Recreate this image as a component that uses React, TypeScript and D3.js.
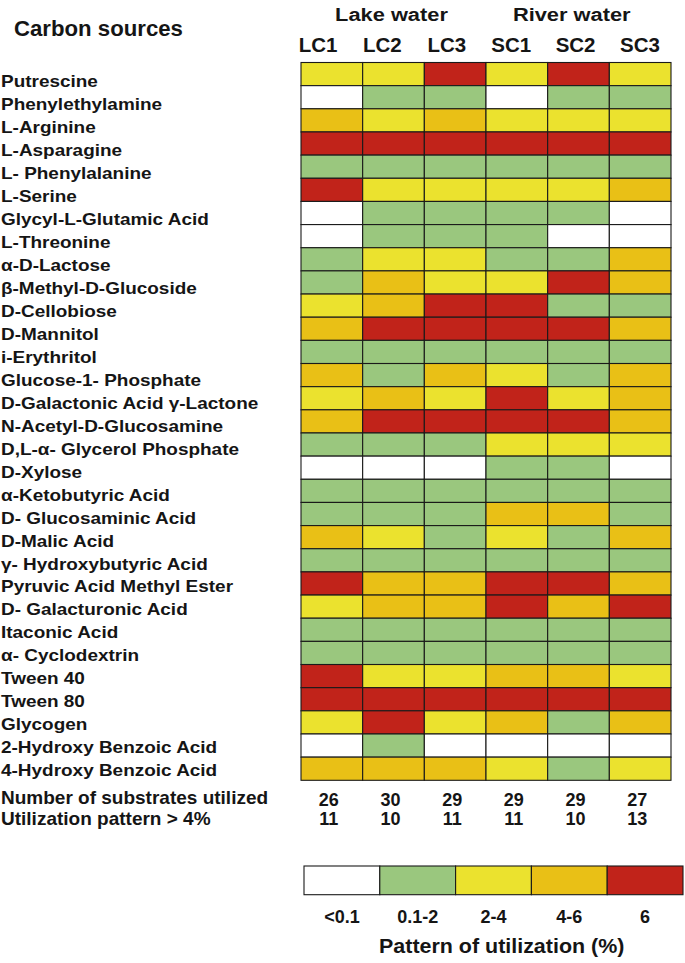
import React from "react";
import * as d3 from "d3";

const carbonSources = [
  "Putrescine",
  "Phenylethylamine",
  "L-Arginine",
  "L-Asparagine",
  "L- Phenylalanine",
  "L-Serine",
  "Glycyl-L-Glutamic Acid",
  "L-Threonine",
  "α-D-Lactose",
  "β-Methyl-D-Glucoside",
  "D-Cellobiose",
  "D-Mannitol",
  "i-Erythritol",
  "Glucose-1- Phosphate",
  "D-Galactonic Acid γ-Lactone",
  "N-Acetyl-D-Glucosamine",
  "D,L-α- Glycerol Phosphate",
  "D-Xylose",
  "α-Ketobutyric Acid",
  "D- Glucosaminic Acid",
  "D-Malic Acid",
  "γ- Hydroxybutyric Acid",
  "Pyruvic Acid Methyl Ester",
  "D- Galacturonic Acid",
  "Itaconic Acid",
  "α- Cyclodextrin",
  "Tween 40",
  "Tween 80",
  "Glycogen",
  "2-Hydroxy Benzoic Acid",
  "4-Hydroxy Benzoic Acid",
];

const samples = ["LC1", "LC2", "LC3", "SC1", "SC2", "SC3"];
const groups = ["Lake water", "River water"];

// utilization class per sample (0: <0.1, 1: 0.1-2, 2: 2-4, 3: 4-6, 4: 6)
const LC1 = [2, 0, 3, 4, 1, 4, 0, 0, 1, 1, 2, 3, 1, 3, 2, 3, 1, 0, 1, 1, 3, 1, 4, 2, 1, 1, 4, 4, 2, 0, 3];
const LC2 = [2, 1, 2, 4, 1, 2, 1, 1, 2, 3, 3, 4, 1, 1, 3, 4, 1, 0, 1, 1, 2, 1, 3, 3, 1, 1, 2, 4, 4, 1, 3];
const LC3 = [4, 1, 3, 4, 1, 2, 1, 1, 2, 2, 4, 4, 1, 3, 2, 4, 1, 0, 1, 1, 1, 1, 3, 3, 1, 1, 2, 4, 2, 0, 3];
const SC1 = [2, 0, 2, 4, 1, 2, 1, 1, 1, 2, 4, 4, 1, 2, 4, 4, 2, 1, 1, 3, 2, 1, 4, 4, 1, 1, 3, 4, 3, 0, 2];
const SC2 = [4, 1, 2, 4, 1, 2, 1, 0, 1, 4, 1, 4, 1, 1, 2, 4, 2, 1, 1, 3, 1, 1, 4, 3, 1, 1, 3, 4, 1, 0, 1];
const SC3 = [2, 1, 2, 4, 1, 3, 0, 0, 3, 3, 1, 3, 1, 3, 3, 3, 2, 0, 1, 1, 3, 1, 3, 4, 1, 1, 2, 4, 3, 0, 2];
const seriesValues = [LC1, LC2, LC3, SC1, SC2, SC3];

const substratesUtilized = [26, 30, 29, 29, 29, 27];
const patternAbove4 = [11, 10, 11, 11, 10, 13];

const legendLabels = ["<0.1", "0.1-2", "2-4", "4-6", "6"];
const classColors = ["#ffffff", "#9ac77e", "#ebe22e", "#e9c016", "#c1231a"];

const W = 685;
const H = 963;
const INK = "#151515";
const FONT = "'Liberation Sans', Arial, Helvetica, sans-serif";

export default function App() {
  const x = d3.scaleBand<string>().domain(samples).range([301, 671]).padding(0);
  const y = d3.scaleBand<string>().domain(carbonSources).range([62.5, 780.3]).padding(0);
  const labelY = d3.scalePoint<string>().domain(carbonSources).range([87.3, 776.2]);
  const headerX = d3.scalePoint<string>().domain(samples).range([318, 640]);
  const groupX = d3.scalePoint<string>().domain(groups).range([391.5, 571.7]);
  const color = d3.scaleOrdinal<number, string>().domain([0, 1, 2, 3, 4]).range(classColors);
  const legendX = d3.scaleBand<string>().domain(legendLabels).range([304, 683]).padding(0);

  const cells: { key: string; s: string; c: string; v: number }[] = [];
  samples.forEach((s, si) => {
    carbonSources.forEach((c, ci) => {
      cells.push({ key: `${s}-${ci}`, s, c, v: seriesValues[si][ci] });
    });
  });

  return (
    <svg
      width={W}
      height={H}
      viewBox={`0 0 ${W} ${H}`}
      style={{ position: "absolute", left: 0, top: 0, background: "#fff" }}
      fontFamily={FONT}
      fontWeight="bold"
    >
      <rect x={0} y={0} width={W} height={H} fill="#fff" />
      <text x={14} y={35.5} fontSize={22.2} fill={INK}>
        Carbon sources
      </text>

      {groups.map((g) => (
        <text
          key={g}
          transform={`translate(${groupX(g)},20.7) scale(1.18,1)`}
          textAnchor="middle"
          fontSize={18.5}
          fill={INK}
        >
          {g}
        </text>
      ))}

      {samples.map((s) => (
        <text key={s} x={headerX(s)} y={52.3} textAnchor="middle" fontSize={20.5} fill={INK}>
          {s}
        </text>
      ))}

      {carbonSources.map((c) => (
        <text
          key={c}
          transform={`translate(1,${labelY(c)}) scale(1.17,1)`}
          fontSize={16.2}
          fill={INK}
        >
          {c}
        </text>
      ))}

      <g>
        {cells.map((d) => (
          <rect
            key={d.key}
            x={x(d.s)}
            y={y(d.c)}
            width={x.bandwidth()}
            height={y.bandwidth()}
            fill={color(d.v)}
            stroke="#1a1a1a"
            strokeWidth={1.1}
          />
        ))}
      </g>

      <text x={1} y={804} fontSize={19} fill={INK}>
        Number of substrates utilized
      </text>
      <text x={1} y={825} fontSize={19} fill={INK}>
        Utilization pattern &gt; 4%
      </text>
      {samples.map((s, i) => (
        <g key={`n-${s}`}>
          <text
            x={(x(s) ?? 0) + x.bandwidth() / 2 - 3}
            y={806}
            textAnchor="middle"
            fontSize={18}
            fill={INK}
          >
            {substratesUtilized[i]}
          </text>
          <text
            x={(x(s) ?? 0) + x.bandwidth() / 2 - 3}
            y={824.5}
            textAnchor="middle"
            fontSize={18}
            fill={INK}
          >
            {patternAbove4[i]}
          </text>
        </g>
      ))}

      <g>
        {legendLabels.map((l, i) => (
          <rect
            key={`lg-${l}`}
            x={legendX(l)}
            y={866}
            width={legendX.bandwidth()}
            height={28.7}
            fill={classColors[i]}
            stroke="#1a1a1a"
            strokeWidth={1.1}
          />
        ))}
        {legendLabels.map((l) => (
          <text
            key={`lt-${l}`}
            x={(legendX(l) ?? 0) + legendX.bandwidth() / 2}
            y={922.7}
            textAnchor="middle"
            fontSize={18}
            fill={INK}
          >
            {l}
          </text>
        ))}
        <text
          transform={`translate(501.7,953) scale(1.1,1)`}
          textAnchor="middle"
          fontSize={19.5}
          fill={INK}
        >
          Pattern of utilization (%)
        </text>
      </g>
    </svg>
  );
}
